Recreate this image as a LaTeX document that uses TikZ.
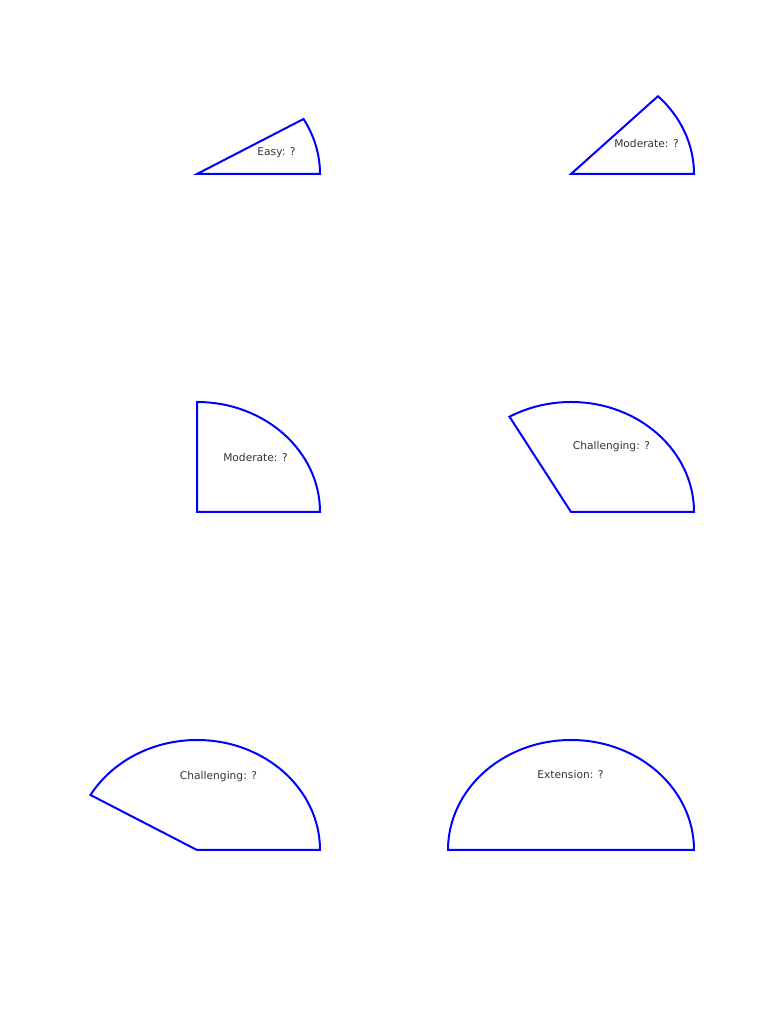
\documentclass[tikz,border=0pt]{standalone}
\usepackage{fontspec}
\setmainfont{DejaVu Sans}
\definecolor{txtgray}{HTML}{333333}
\begin{document}
\begin{tikzpicture}[x=0.75pt,y=0.75pt,
  sector/.style={draw=blue,line width=1.5pt,line join=miter},
  lbl/.style={text=txtgray,font=\fontsize{8pt}{9.6pt}\selectfont,inner sep=0pt,anchor=center}]
\useasboundingbox (0,0) rectangle (768,1024);
% sectors: center, angle
\draw[sector] (320,850) arc[start angle=0,end angle=30,x radius=123,y radius=110] -- (197,850) -- cycle;
\draw[sector] (694,850) arc[start angle=0,end angle=45,x radius=123,y radius=110] -- (571,850) -- cycle;
\draw[sector] (320,512) arc[start angle=0,end angle=90,x radius=123,y radius=110] -- (197,512) -- cycle;
\draw[sector] (694,512) arc[start angle=0,end angle=120,x radius=123,y radius=110] -- (571,512) -- cycle;
\draw[sector] (320,174) arc[start angle=0,end angle=150,x radius=123,y radius=110] -- (197,174) -- cycle;
\draw[sector] (694,174) arc[start angle=0,end angle=180,x radius=123,y radius=110] -- (571,174) -- cycle;
\node[lbl] (l1) at (276.5,871.5) {Easy: ?};
\node[lbl] (l2) at (646.5,880.5) {Moderate: ?};
\node[lbl] (l3) at (255.5,566.5) {Moderate: ?};
\node[lbl] (l4) at (611.5,577.5) {Challenging: ?};
\node[lbl] (l5) at (218.5,247.5) {Challenging: ?};
\node[lbl] (l6) at (570.5,249.5) {Extension: ?};
\end{tikzpicture}
\end{document}
